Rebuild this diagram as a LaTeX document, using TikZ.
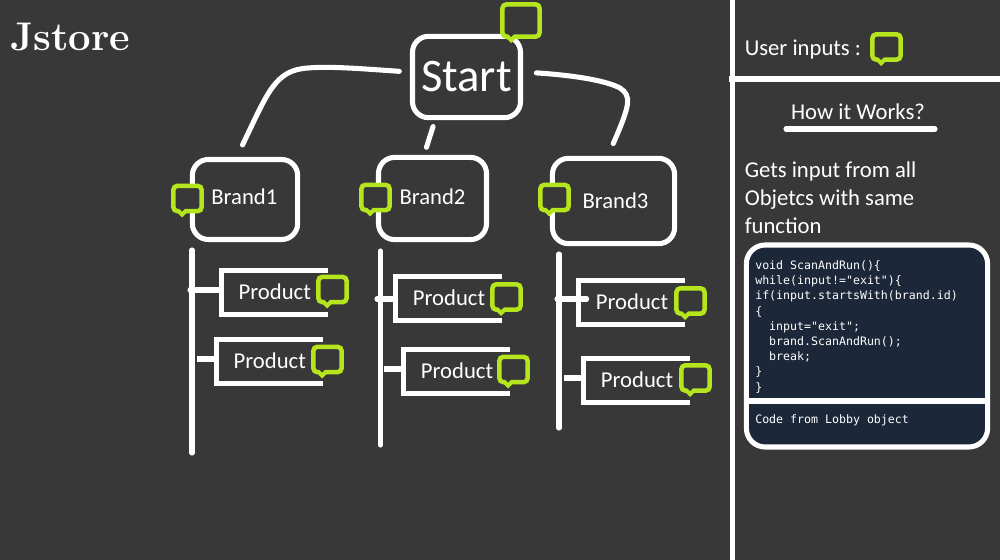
\documentclass[tikz,border=0pt]{standalone}
\usepackage{fontspec}
\usepackage{xcolor}
\usepackage{tikz}
\usetikzlibrary{calc}
\newfontfamily\uifont{Carlito}
\newfontfamily\codefont{DejaVu Sans Mono}
\definecolor{jsBg}{HTML}{383838}
\definecolor{jsTip}{HTML}{B5E61D}
\definecolor{jsCode}{HTML}{1C273A}

\begin{document}
\begin{tikzpicture}[
  x=0.75pt, y=-0.75pt,
  brand/.style={draw=white, rounded corners=12pt, line width=3.8pt, inner sep=0pt,
                font=\uifont\fontsize{17}{20}\selectfont, text=white},
  product/.style={inner sep=0pt, outer sep=0pt, minimum width=80pt, minimum height=33pt,
                  text depth=1.5pt, font=\uifont\fontsize{17}{20}\selectfont, text=white},
  tip/.style={draw=jsTip, fill=jsBg, rounded corners=3pt, line width=3.4pt,
              minimum width=21.2pt, minimum height=19pt, inner sep=0pt},
  lab/.style={font=\uifont\fontsize{17}{21}\selectfont, text=white, inner sep=0pt},
  code/.style={font=\codefont\fontsize{8.7}{11.4}\selectfont, text=white, inner sep=0pt,
               align=left},
  wire/.style={draw=white, line width=3.8pt, line cap=round},
  bar/.style={draw=white, line width=3.8pt},
]
  \path[use as bounding box, fill=jsBg] (0,0) rectangle (1000,560);

  \node[text=white, inner sep=0pt, font=\bfseries\fontsize{30}{36}\selectfont] (logo) at (70,37) {Jstore};

  \node[brand, minimum width=81pt, minimum height=61pt,
        font=\uifont\fontsize{35}{40}\selectfont] (start) at (466.5,77) {Start};
  \node[brand, minimum width=79pt, minimum height=60pt] (brand1) at (245,199.5) {\hspace{-1pt}\raisebox{4.5pt}{Brand1}};
  \node[brand, minimum width=81pt, minimum height=61.6pt] (brand2) at (432.5,198.5) {\raisebox{2.5pt}{Brand2}};
  \node[brand, minimum width=91.6pt, minimum height=64pt] (brand3) at (613.5,201) {\hspace{3pt}\raisebox{1pt}{Brand3}};

  \draw[wire, shorten <=8pt, shorten >=10pt] (start.175) .. controls (365,69) and (330,66) .. (308,68)
    .. controls (275,70) and (268,92) .. (brand1.101);
  \draw[wire, shorten <=5pt, shorten >=6pt] (start.234) -- (brand2.101);
  \draw[wire, shorten <=10pt, shorten >=10pt] (start.5) .. controls (570,75) and (605,80) .. (620,88)
    .. controls (632,96) and (630,105) .. (brand3.97);

  % product columns
  \node[product] (p11) at (274.75,292.5) {Product};
  \node[product] (p12) at (269.75,361.5) {Product};
  \node[product] (p21) at (449,298.5) {Product};
  \node[product] (p22) at (457,371.5) {Product};
  \node[product] (p31) at (632,302.5) {Product};
  \node[product] (p32) at (637,380.5) {Product};
  \foreach \p in {p11,p12,p21,p22,p31,p32}
    \draw[bar] (\p.north east) -- (\p.north west) -- (\p.south west) -- (\p.south east);

  \coordinate (top1) at (192,250);
  \coordinate (end1) at (192,453);
  \coordinate (top2) at (380.5,251);
  \coordinate (end2) at (380.5,445);
  \coordinate (top3) at (559,254);
  \coordinate (end3) at (559,428);
  \draw[wire] (top1) -- (end1);
  \draw[wire] (top2) -- (end2);
  \draw[wire] (top3) -- (end3);
  \coordinate (in11) at (190,290);
  \coordinate (in12) at (197,359);
  \coordinate (in21) at (377,299);
  \coordinate (in22) at (384,369);
  \coordinate (in31) at (557,299);
  \coordinate (in32) at (564,378);
  \draw[wire] (p11.west |- in11) -- (in11);
  \draw[bar] (p12.west |- in12) -- (in12);
  \draw[wire] (p21.west |- in21) -- (in21);
  \draw[bar] (p22.west |- in22) -- (in22);
  \draw[wire] ($(p31.west |- in31)+(8,0)$) -- (in31);
  \draw[bar] (p32.west |- in32) -- (in32);

  % panel on the right
  \coordinate (railtop) at (732.5,0);
  \coordinate (railend) at (732.5,560);
  \coordinate (rulea) at (729,79);
  \coordinate (ruleb) at (1000,79);
  \draw[bar] (railtop) -- (railend);
  \draw[bar] (rulea) -- (ruleb);

  \node[lab, anchor=west] (inputs) at (744.5,50) {User inputs :};
  \node[lab] (how) at (858,112) {How it Works?};
  \coordinate (howa) at (786,129);
  \coordinate (howb) at (935,129);
  \draw[wire] (howa) -- (howb);
  \node[lab, anchor=north west, align=left] (gets) at (744.5,161.5) {Gets input from all\\Objetcs with same\\function};

  \node[draw=white, fill=jsCode, rounded corners=14pt, line width=3.8pt, inner sep=0pt,
        minimum width=180.9pt, minimum height=151.5pt] (codebox) at (867,346) {};
  \coordinate (cut) at (867,401);
  \draw[bar] (codebox.west |- cut) -- (codebox.east |- cut);
  \node[code, anchor=north west] (listing) at (755,260.5) {void ScanAndRun()\{\\while(input!="exit")\{\\if(input.startsWith(brand.id)\\\{\\~~input="exit";\\~~brand.ScanAndRun();\\~~break;\\\}\\\}};
  \node[code, anchor=west] (caption) at (755,420) {Code from Lobby object};

  % speech marks
  \node[tip, minimum width=27.9pt, minimum height=24.2pt] (t0) at (521,20.5) {};
  \node[tip] (t1) at (187.5,198.5) {};
  \node[tip] (t2) at (375.5,197.5) {};
  \node[tip] (t3) at (554.5,197.5) {};
  \node[tip] (t11) at (332.5,289.5) {};
  \node[tip] (t12) at (327.5,359.5) {};
  \node[tip] (t21) at (506.5,297) {};
  \node[tip] (t22) at (513.5,369.5) {};
  \node[tip] (t31) at (690.5,301) {};
  \node[tip] (t32) at (695.5,378) {};
  \node[tip] (t4) at (886.5,47) {};
  \foreach \t in {t0,t1,t2,t3,t11,t12,t21,t22,t31,t32,t4} {
    \fill[jsTip] ($(\t.south west)+(6,-1)$) -- ($(\t.south west)+(11,4)$) -- ($(\t.south west)+(16,-1)$) -- cycle;
    \fill[jsBg] ($(\t.south west)+(8,-5)$) -- ($(\t.south west)+(11,-2)$) -- ($(\t.south west)+(14,-5)$) -- cycle;
  }
\end{tikzpicture}
\end{document}
